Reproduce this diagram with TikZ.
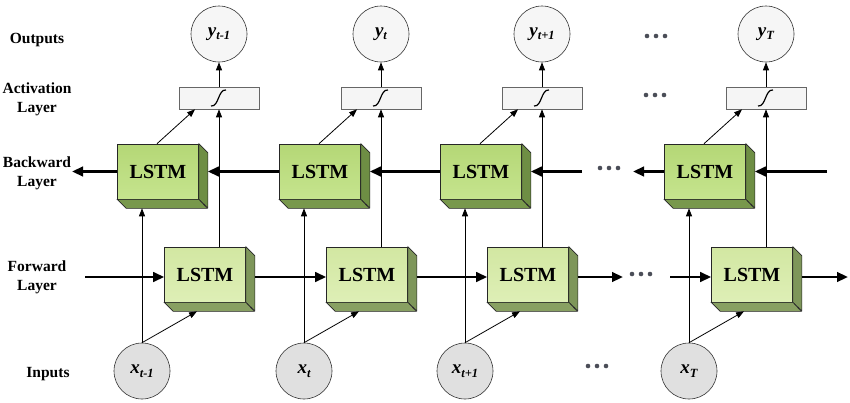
\documentclass[tikz,border=0pt]{standalone}
\usepackage{fontspec}
\setmainfont{Liberation Serif}
\usetikzlibrary{arrows.meta}
\definecolor{bfront}{RGB}{180,215,118}
\definecolor{bfrontb}{RGB}{198,228,142}
\definecolor{bside}{RGB}{110,142,68}
\definecolor{bbottom}{RGB}{120,152,76}
\definecolor{ffront}{RGB}{210,231,162}
\definecolor{ffrontb}{RGB}{222,239,182}
\definecolor{fside}{RGB}{126,150,90}
\definecolor{fbottom}{RGB}{136,160,98}
\definecolor{outfill}{RGB}{246,246,246}
\definecolor{infill}{RGB}{224,224,224}
\definecolor{actfill}{RGB}{245,245,245}
\definecolor{dotcol}{RGB}{75,78,88}
\newcommand\circlab[2]{\fontsize{19}{19}\selectfont\bfseries\itshape #1\raisebox{-0.4ex}{\fontsize{12.5}{12.5}\selectfont #2}}
\newcommand\boxsides[3]{%
  \filldraw[fill=#2, draw=black!85, line width=0.6pt] (#1.north east) -- ++(9,9) -- ++(0,55) -- (#1.south east) -- cycle;
  \filldraw[fill=#3, draw=black!85, line width=0.6pt] (#1.south west) -- ++(9,9) -- ++(81,0) -- (#1.south east) -- cycle;
}
\newcommand\threedots[2]{\foreach \k in {-9,0,9} {\fill[dotcol] (#1+\k,#2) circle (2.3);}}
\begin{document}
\begin{tikzpicture}[x=1pt,y=-1pt,
  lbl/.style={font=\fontsize{15.5}{19}\selectfont\bfseries, align=center},
  lstmface/.style={draw=black!85, line width=0.6pt, minimum width=81pt, minimum height=55pt, inner sep=0pt, font=\fontsize{20}{24}\selectfont\bfseries},
  bwface/.style={lstmface, top color=bfront, bottom color=bfrontb},
  fwface/.style={lstmface, top color=ffront, bottom color=ffrontb},
  actbox/.style={draw=black!60, line width=0.6pt, fill=actfill, minimum width=80pt, minimum height=22pt, inner sep=0pt},
  outc/.style={circle, draw=black!80, line width=0.6pt, fill=outfill, minimum size=56pt, inner sep=0pt},
  inc/.style={circle, draw=black!80, line width=0.6pt, fill=infill, minimum size=56pt, inner sep=0pt},
  bigarr/.style={line width=2.5pt, -{Triangle[length=11pt,width=9.5pt]}},
  thinarr/.style={line width=0.8pt, -{Triangle[length=8pt,width=6pt]}},
  sig/.style={line width=1.2pt}
]
\useasboundingbox (0,0) rectangle (850,402);
\fill[white] (0,0) rectangle (850,402);

% row labels
\node[lbl] (lo) at (37,40) {Outputs};
\node[lbl] (la) at (37,99) {Activation\\Layer};
\node[lbl] (lb) at (37,173) {Backward\\Layer};
\node[lbl] (lf) at (37,277) {Forward\\Layer};
\node[lbl] (li) at (48,374) {Inputs};

% columns
\foreach \c/\b/\s in {a/158/t-1, b/320/t, c/481/t+1, d/705/T}{
  \pgfmathsetmacro\fx{\b+47}
  \pgfmathsetmacro\ax{\b+61}
  \pgfmathsetmacro\ix{\b-16}
  \node[bwface] (bw\c) at (\b,171.5) {LSTM};
  \boxsides{bw\c}{bside}{bbottom}
  \node[fwface] (fw\c) at (\fx,274.5) {LSTM};
  \boxsides{fw\c}{fside}{fbottom}
  \node[actbox] (act\c) at (\ax,98) {};
  \draw[sig] ([xshift=-8pt,yshift=-8pt]act\c.center) .. controls ([xshift=0pt,yshift=-9pt]act\c.center) and ([xshift=-1pt,yshift=9pt]act\c.center) .. ([xshift=7pt,yshift=8pt]act\c.center);
  \node[outc] (y\c) at (\ax,34) {\circlab{y}{\s}};
  \node[inc] (x\c) at (\ix,371) {\circlab{x}{\s}};
  \coordinate (bb\c) at ([yshift=-9pt]bw\c.south);
  \coordinate (fb\c) at ([xshift=-8pt,yshift=-9pt]fw\c.south);
  \draw[thinarr] (x\c.north) -- (x\c.north |- bb\c);
  \draw[thinarr] (x\c.north) -- (fb\c);
  \draw[thinarr] (act\c.south |- fw\c.north) -- (act\c.south);
  \draw[thinarr] ([xshift=-1pt]bw\c.north) -- ([xshift=-24pt]act\c.south);
  \draw[thinarr] (act\c.north) -- (y\c.south);
}

% free ends
\coordinate (bR) at (827,171.5);
\coordinate (bL) at (72,171.5);
\coordinate (bD1) at (633,171.5);
\coordinate (bD2) at (582,171.5);
\coordinate (fL) at (85,277);
\coordinate (fR) at (848,277);
\coordinate (fD1) at (623,277);
\coordinate (fD2) at (670,277);

% backward row
\draw[bigarr] (bR) -- ([xshift=9pt]bwd.east);
\draw[bigarr] (bwd.west) -- (bD1);
\draw[bigarr] (bD2) -- ([xshift=9pt]bwc.east);
\draw[bigarr] (bwc.west) -- ([xshift=9pt]bwb.east);
\draw[bigarr] (bwb.west) -- ([xshift=9pt]bwa.east);
\draw[bigarr] (bwa.west) -- (bL);

% forward row
\draw[bigarr] (fL) -- ([yshift=-2.5pt]fwa.west);
\draw[bigarr] ([xshift=9pt,yshift=-2.5pt]fwa.east) -- ([yshift=-2.5pt]fwb.west);
\draw[bigarr] ([xshift=9pt,yshift=-2.5pt]fwb.east) -- ([yshift=-2.5pt]fwc.west);
\draw[bigarr] ([xshift=9pt,yshift=-2.5pt]fwc.east) -- (fD1);
\draw[bigarr] (fD2) -- ([yshift=-2.5pt]fwd.west);
\draw[bigarr] ([xshift=9pt,yshift=-2.5pt]fwd.east) -- (fR);

% ellipses
\threedots{656}{36}
\threedots{655}{95}
\threedots{609}{168}
\threedots{641}{274}
\threedots{597}{366}
\end{tikzpicture}
\end{document}
